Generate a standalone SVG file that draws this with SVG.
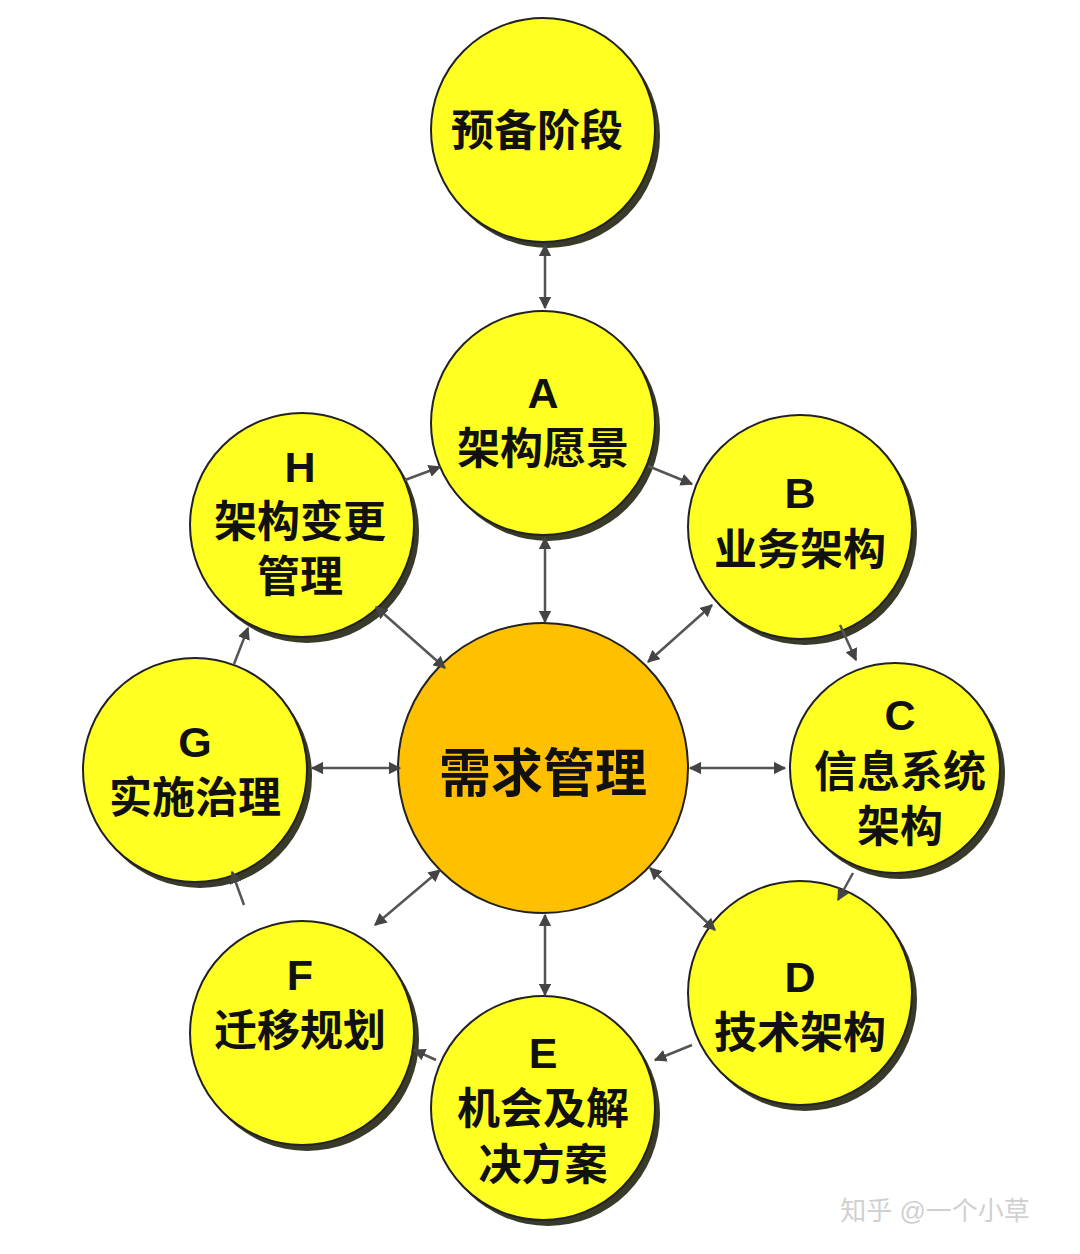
<svg xmlns="http://www.w3.org/2000/svg" width="1080" height="1254" viewBox="0 0 1080 1254">
<defs>
<style>
.sh{fill:#3a3a2a}
.n{fill:#FFFF22;stroke:#222;stroke-width:2}
.c{fill:#FFC000;stroke:#222;stroke-width:2}
text{font-family:"Liberation Sans","Noto Sans CJK SC",sans-serif;font-size:43px;font-weight:bold;fill:#111;text-anchor:middle}
.con line{stroke:#555;stroke-width:2.5}
</style>
<marker id="ah" viewBox="0 0 10 10" refX="9" refY="5" markerWidth="5" markerHeight="5" orient="auto-start-reverse"><path d="M0,0L10,5L0,10z" fill="#444"/></marker>
</defs>
<rect width="1080" height="1254" fill="#fff"/>
<g id="pre"><circle class="sh" cx="548" cy="136" r="112"/><circle class="n" cx="543" cy="130" r="112"/><text x="537" y="146">预备阶段</text></g>
<g id="A"><circle class="sh" cx="548" cy="429" r="112"/><circle class="n" cx="543" cy="423" r="112"/><text x="543" y="408">A</text><text x="543" y="464">架构愿景</text></g>
<g id="B"><circle class="sh" cx="805" cy="533" r="112"/><circle class="n" cx="800" cy="527" r="112"/><text x="800" y="508">B</text><text x="800" y="565">业务架构</text></g>
<g id="C"><circle class="sh" cx="900" cy="774" r="105"/><circle class="n" cx="895" cy="768" r="105"/><text x="900" y="730">C</text><text x="900" y="787">信息系统</text><text x="900" y="842">架构</text></g>
<g id="D"><circle class="sh" cx="805" cy="999" r="112"/><circle class="n" cx="800" cy="993" r="112"/><text x="800" y="992">D</text><text x="800" y="1048">技术架构</text></g>
<g id="E"><circle class="sh" cx="548" cy="1114" r="112"/><circle class="n" cx="543" cy="1108" r="112"/><text x="543" y="1068">E</text><text x="543" y="1124">机会及解</text><text x="543" y="1180">决方案</text></g>
<g id="F"><circle class="sh" cx="307" cy="1039" r="112"/><circle class="n" cx="302" cy="1033" r="112"/><text x="300" y="990">F</text><text x="300" y="1046">迁移规划</text></g>
<g id="G"><circle class="sh" cx="200" cy="776" r="112"/><circle class="n" cx="195" cy="770" r="112"/><text x="195" y="757">G</text><text x="195" y="813">实施治理</text></g>
<g id="H"><circle class="sh" cx="307" cy="531" r="112"/><circle class="n" cx="302" cy="525" r="112"/><text x="300" y="482">H</text><text x="300" y="537">架构变更</text><text x="300" y="592">管理</text></g>
<g id="center"><circle class="c" cx="543" cy="768" r="145"/><text x="543" y="792" style="font-size:52px">需求管理</text></g>
<g class="con" id="connectors">
<line x1="545" y1="245" x2="545" y2="308" marker-start="url(#ah)" marker-end="url(#ah)"/>
<line x1="545" y1="538" x2="545" y2="622" marker-start="url(#ah)" marker-end="url(#ah)"/>
<line x1="545" y1="915" x2="545" y2="995" marker-start="url(#ah)" marker-end="url(#ah)"/>
<line x1="400" y1="768" x2="312" y2="768" marker-start="url(#ah)" marker-end="url(#ah)"/>
<line x1="690" y1="768" x2="785" y2="768" marker-start="url(#ah)" marker-end="url(#ah)"/>
<line x1="648" y1="662" x2="712" y2="605" marker-start="url(#ah)" marker-end="url(#ah)"/>
<line x1="445" y1="668" x2="376" y2="607" marker-start="url(#ah)" marker-end="url(#ah)"/>
<line x1="650" y1="868" x2="715" y2="930" marker-start="url(#ah)" marker-end="url(#ah)"/>
<line x1="440" y1="870" x2="375" y2="925" marker-start="url(#ah)" marker-end="url(#ah)"/>
<line x1="648" y1="466" x2="692" y2="484" marker-end="url(#ah)"/>
<line x1="840" y1="625" x2="856" y2="660" marker-end="url(#ah)"/>
<line x1="853" y1="873" x2="838" y2="900" marker-end="url(#ah)"/>
<line x1="692" y1="1045" x2="655" y2="1060" marker-end="url(#ah)"/>
<line x1="436" y1="1060" x2="414" y2="1050" marker-end="url(#ah)"/>
<line x1="244" y1="905" x2="232" y2="872" marker-end="url(#ah)"/>
<line x1="234" y1="664" x2="248" y2="628" marker-end="url(#ah)"/>
<line x1="405" y1="480" x2="440" y2="467" marker-end="url(#ah)"/>
</g>
<text x="935" y="1220" style="font-size:26px;font-weight:normal;fill:#d0d0d0">知乎 @一个小草</text>
</svg>
